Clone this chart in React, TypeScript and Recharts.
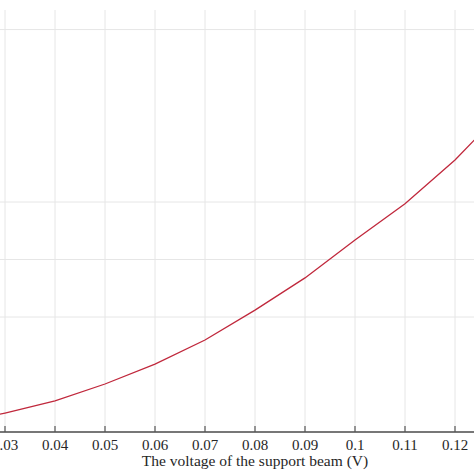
import React from 'react';
import { LineChart, Line, XAxis, YAxis, CartesianGrid } from 'recharts';

const voltage = [0.025, 0.03, 0.04, 0.05, 0.06, 0.07, 0.08, 0.09, 0.1, 0.11, 0.12, 0.125];
const response = [0.23, 0.33, 0.54, 0.835, 1.18, 1.6, 2.12, 2.68, 3.34, 3.97, 4.73, 5.18];
const xTicks = [0.03, 0.04, 0.05, 0.06, 0.07, 0.08, 0.09, 0.1, 0.11, 0.12];
const xTickLabels = ['0.03', '0.04', '0.05', '0.06', '0.07', '0.08', '0.09', '0.1', '0.11', '0.12'];
const yGrid = [2, 3, 4, 7];

const data = voltage.map((v, i) => ({ v, r: response[i] }));

const FONT = '"Liberation Serif", "Times New Roman", serif';

const labelFor = (val: number) =>
  xTickLabels[xTicks.findIndex((t) => Math.abs(t - val) < 1e-9)] ?? String(val);

const BottomTick = (props: any) => {
  const { x, y, payload } = props;
  return (
    <g>
      <line x1={x} y1={y} x2={x} y2={y - 6} stroke="#555" strokeWidth={1.2} />
      <text
        x={x}
        y={y + 13}
        dy="0.35em"
        textAnchor="middle"
        fontFamily={FONT}
        fontSize={15}
        fill="#262626"
      >
        {labelFor(payload.value)}
      </text>
    </g>
  );
};

const TopTick = (props: any) => {
  const { x, y } = props;
  return <line x1={x} y1={y} x2={x} y2={y + 6} stroke="#777" strokeWidth={1.2} />;
};

export default function App() {
  return (
    <div style={{ position: 'absolute', left: 0, top: 0, width: 474, height: 474, background: '#fff' }}>
      <LineChart width={474} height={474} data={data} margin={{ top: 10, right: 0, left: 0, bottom: 0 }}>
        <CartesianGrid stroke="#e6e6e6" strokeWidth={1} horizontalValues={yGrid} verticalValues={xTicks} />
        <XAxis
          dataKey="v"
          type="number"
          domain={[0.029, 0.1238]}
          allowDataOverflow
          ticks={xTicks}
          height={42}
          axisLine={{ stroke: '#4a4a4a', strokeWidth: 1.5 }}
          tickLine={false}
          tickSize={0}
          tickMargin={0}
          tick={<BottomTick />}
          interval={0}
          label={{
            value: 'The voltage of the support beam (V)',
            position: 'insideBottom',
            offset: 8,
            dx: 18,
            style: { fontFamily: FONT, fontSize: 15.5, fill: '#262626' },
          }}
        />
        <XAxis
          xAxisId="top"
          dataKey="v"
          type="number"
          orientation="top"
          domain={[0.029, 0.1238]}
          allowDataOverflow
          ticks={xTicks}
          height={0}
          axisLine={{ stroke: '#808080', strokeWidth: 1.5 }}
          tickLine={false}
          tickSize={0}
          tickMargin={0}
          tick={<TopTick />}
          interval={0}
        />
        <YAxis hide type="number" domain={[0, 7.34]} ticks={yGrid} allowDataOverflow />
        <Line
          type="linear"
          dataKey="r"
          stroke="#c0283c"
          strokeWidth={1.3}
          dot={false}
          isAnimationActive={false}
        />
      </LineChart>
    </div>
  );
}
